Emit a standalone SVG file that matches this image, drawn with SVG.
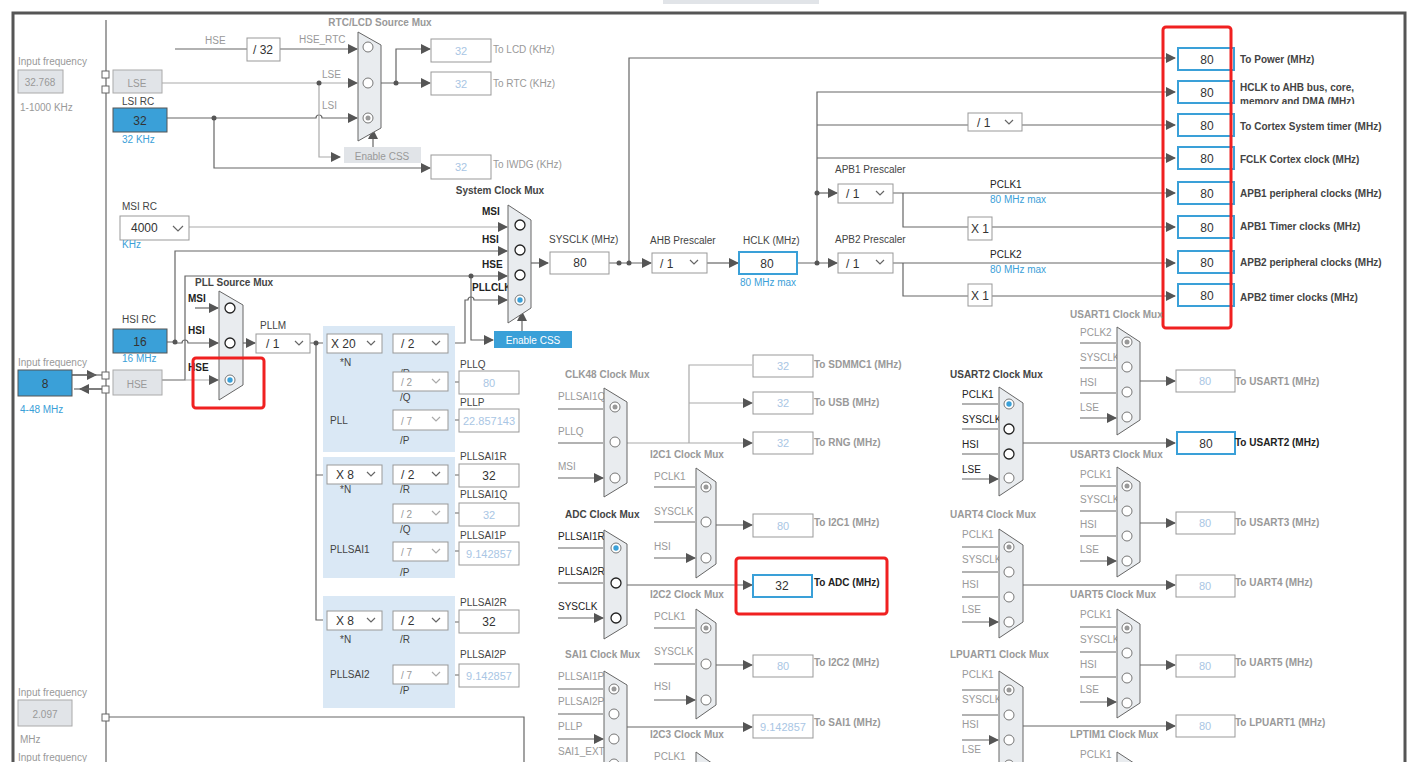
<svg xmlns="http://www.w3.org/2000/svg" width="1411" height="762" viewBox="0 0 1411 762">
<style>
text{font-family:"Liberation Sans",Arial,sans-serif;font-size:10px;fill:#444}
.g{fill:#999}.d{fill:#222}.b{font-weight:bold}.bl{fill:#3aa0d8}.f{fill:#a9c6e4;font-size:11px}.v{font-size:12px;fill:#333}.w{fill:#fff}
.ln{fill:none;stroke:#666;stroke-width:1.2}
.lg{fill:none;stroke:#aaa;stroke-width:1.2}
.bx{fill:#fff;stroke:#999;stroke-width:1}
.bb{fill:#fff;stroke:#3aa0d8;stroke-width:2}
.bf{fill:#3aa0d8;stroke:#555}
.gf{fill:#e1e4e8;stroke:#aaa}
.mx{fill:#e9ecef;stroke:#666;stroke-width:1}
.c{fill:#fff;stroke:#777;stroke-width:1}
.cd{fill:#fff;stroke:#222;stroke-width:1.3}
.pn{fill:#dae8f5}
.rd{fill:none;stroke:#f02020;stroke-width:3}
.dot{fill:#555}
</style>
<defs>
<marker id="a" markerWidth="10" markerHeight="10" refX="9" refY="5" orient="auto" markerUnits="userSpaceOnUse"><path d="M0,0L10,5L0,10Z" fill="#555"/></marker>
<clipPath id="hc"><rect x="1236" y="78" width="140" height="26"/></clipPath>
</defs>
<rect x="663" y="0" width="156" height="4" fill="#e1e4e8"/>
<rect x="13" y="13" width="1392" height="760" fill="none" stroke="#555" stroke-width="3"/>
<g id="connectors">
<path class="ln" d="M106,20V762"/>
<path class="ln" d="M106,717H524V762"/>
<path class="ln" d="M72,375H96" marker-end="url(#a)"/>
<path class="ln" d="M72,375H102"/>
<path class="ln" d="M104,389H80" marker-end="url(#a)"/>
<path class="ln" d="M104,389H74"/>
<path class="ln" d="M175,49H247"/><path class="ln" d="M280,49H357" marker-end="url(#a)"/>
<path class="lg" d="M162,83H357" marker-end="url(#a)"/>
<path class="ln" d="M167,118H316a3,3 0 0 1 6,0H357" marker-end="url(#a)"/>
<path class="lg" d="M319,83V157H340" marker-end="url(#a)"/>
<path class="ln" d="M214,118V168H430" marker-end="url(#a)"/>
<path class="ln" d="M381,83H396V49H430" marker-end="url(#a)"/>
<path class="ln" d="M396,83H430" marker-end="url(#a)"/>
<path class="ln" d="M373,147V130" marker-end="url(#a)"/>
<path class="lg" d="M189,227H507" marker-end="url(#a)"/>
<path class="ln" d="M167,342H175V251H507" marker-end="url(#a)"/>
<path class="ln" d="M162,380H185V276H507" marker-end="url(#a)"/>
<path class="ln" d="M471,276V340H493" marker-end="url(#a)"/>
<path class="ln" d="M448,343H465V300H468a3,3 0 0 1 6,0H507" marker-end="url(#a)"/>
<path class="ln" d="M522,331V312" marker-end="url(#a)"/>
<path class="ln" d="M195,308H218" marker-end="url(#a)"/>
<path class="ln" d="M175,343H182a3,3 0 0 1 6,0H218" marker-end="url(#a)"/>
<path class="lg" d="M185,380H218" marker-end="url(#a)"/>
<path class="ln" d="M243,343H255" marker-end="url(#a)"/>
<path class="ln" d="M310,343H327M316,343V620H327M316,475H327"/>
<path class="ln" d="M382,343H393M387,343V420H393M387,381H393M382,475H393M387,475V551H393M387,513H393M382,620H393M386,620V674H393"/>
<path class="ln" d="M448,382H459M448,420H459M448,475H459M448,513H459M448,551H459M448,622H459M448,675H459"/>
<path class="ln" d="M531,263H548" marker-end="url(#a)"/>
<path class="ln" d="M609,263H651" marker-end="url(#a)"/>
<path class="ln" d="M629,263V58H1175" marker-end="url(#a)"/>
<path class="ln" d="M707,263H738" marker-end="url(#a)"/>
<path class="ln" d="M797,263H837" marker-end="url(#a)"/>
<path class="ln" d="M817,263V92H1175" marker-end="url(#a)"/>
<path class="ln" d="M817,125H968M1022,125H1175" marker-end="url(#a)"/>
<path class="ln" d="M817,158H1175" marker-end="url(#a)"/>
<path class="ln" d="M817,193H837" marker-end="url(#a)"/>
<path class="ln" d="M893,193H1175" marker-end="url(#a)"/>
<path class="ln" d="M903,193V227H968M992,227H1175" marker-end="url(#a)"/>
<path class="ln" d="M893,263H1175" marker-end="url(#a)"/>
<path class="ln" d="M903,263V296H968M992,296H1175" marker-end="url(#a)"/>
<path class="ln" d="M558,409H603M558,443H603M558,478H603" marker-end="url(#a)"/>
<path class="lg" d="M624,443H752" marker-end="url(#a)"/>
<path class="lg" d="M689,443V365H752M689,403H752" marker-end="url(#a)"/>
<path class="ln" d="M654,487H695M654,522H695M654,558H695" marker-end="url(#a)"/>
<path class="ln" d="M716,525H752" marker-end="url(#a)"/>
<path class="ln" d="M558,548H603M558,583H603M558,618H603" marker-end="url(#a)"/>
<path class="ln" d="M624,585H752" marker-end="url(#a)"/>
<path class="ln" d="M654,628H695M654,664H695M654,700H695" marker-end="url(#a)"/>
<path class="ln" d="M716,665H752" marker-end="url(#a)"/>
<path class="ln" d="M558,689H603M558,714H603M558,739H603" marker-end="url(#a)"/>
<path class="ln" d="M624,727H752" marker-end="url(#a)"/>
<path class="ln" d="M962,404H998M962,429H998M962,454H998M962,479H998" marker-end="url(#a)"/>
<path class="ln" d="M1023,443H1175" marker-end="url(#a)"/>
<path class="ln" d="M1080,343H1116M1080,368H1116M1080,393H1116M1080,418H1116" marker-end="url(#a)"/>
<path class="ln" d="M1140,381H1175" marker-end="url(#a)"/>
<path class="ln" d="M1080,486H1116M1080,511H1116M1080,536H1116M1080,561H1116" marker-end="url(#a)"/>
<path class="ln" d="M1140,523H1175" marker-end="url(#a)"/>
<path class="ln" d="M962,547H998M962,572H998M962,597H998M962,622H998" marker-end="url(#a)"/>
<path class="ln" d="M1023,585H1175" marker-end="url(#a)"/>
<path class="ln" d="M1080,627H1116M1080,652H1116M1080,677H1116M1080,702H1116" marker-end="url(#a)"/>
<path class="ln" d="M1140,665H1175" marker-end="url(#a)"/>
<path class="ln" d="M962,690H998M962,715H998M962,740H998" marker-end="url(#a)"/>
<path class="ln" d="M1023,726H1175" marker-end="url(#a)"/>
<circle class="dot" cx="319" cy="83" r="2.5"/><circle class="dot" cx="214" cy="118" r="2.5"/><circle class="dot" cx="396" cy="83" r="2.5"/>
<circle class="dot" cx="175" cy="342" r="2.5"/><circle class="dot" cx="471" cy="276" r="2.5"/><circle class="dot" cx="316" cy="343" r="2.5"/>
<circle class="dot" cx="619" cy="263" r="2.5"/><circle class="dot" cx="629" cy="263" r="2.5"/><circle class="dot" cx="817" cy="263" r="2.5"/><circle class="dot" cx="817" cy="193" r="2.5"/>
</g>
<g id="left">
<text class="g" x="18" y="65">Input frequency</text>
<rect class="gf" x="18" y="70" width="45" height="23"/><text class="g" x="40" y="86" text-anchor="middle" font-size="12">32.768</text>
<text class="g" x="20" y="111">1-1000 KHz</text>
<rect x="102" y="71" width="7" height="7" fill="#fff" stroke="#666"/><rect x="102" y="86" width="7" height="7" fill="#fff" stroke="#666"/>
<rect class="gf" x="113" y="70" width="49" height="23"/><text x="137" y="87" text-anchor="middle" font-size="15" class="g">LSE</text>
<text x="122" y="105">LSI RC</text><rect class="bf" x="113" y="108" width="54" height="24"/><text x="140" y="125" text-anchor="middle" class="v">32</text>
<text class="bl" x="122" y="143">32 KHz</text>
<text x="122" y="210">MSI RC</text><rect class="bx" x="120" y="216" width="69" height="24"/><text class="v" x="131" y="232">4000</text><path class="ln" d="M173,226l5,5 5,-5"/>
<text class="bl" x="122" y="248">KHz</text>
<text x="122" y="323">HSI RC</text><rect class="bf" x="113" y="329" width="54" height="24"/><text x="140" y="346" text-anchor="middle" class="v">16</text>
<text class="bl" x="122" y="362">16 MHz</text>
<text class="g" x="18" y="366">Input frequency</text><rect class="bf" x="18" y="370" width="54" height="26"/><text x="45" y="388" text-anchor="middle" class="v">8</text>
<text class="bl" x="20" y="413">4-48 MHz</text>
<rect x="102" y="372" width="7" height="7" fill="#fff" stroke="#666"/><rect x="102" y="386" width="7" height="7" fill="#fff" stroke="#666"/>
<rect class="gf" x="113" y="370" width="49" height="25"/><text x="137" y="388" text-anchor="middle" font-size="15" class="g">HSE</text>
<text class="g" x="18" y="696">Input frequency</text><rect class="gf" x="18" y="700" width="54" height="26"/><text x="45" y="718" text-anchor="middle" class="g" font-size="12">2.097</text>
<text class="g" x="20" y="743">MHz</text><text class="g" x="18" y="761">Input frequency</text>
<rect x="102" y="714" width="7" height="7" fill="#fff" stroke="#666"/>
</g>
<g id="rtc">
<text class="g b" x="380" y="26" text-anchor="middle" font-size="9">RTC/LCD Source Mux</text>
<text class="g" x="205" y="44">HSE</text><rect class="bx" x="247" y="38" width="33" height="23"/><text class="v" x="263" y="54" text-anchor="middle">/ 32</text>
<text class="g" x="299" y="43">HSE_RTC</text><text class="g" x="322" y="78">LSE</text><text class="g" x="322" y="109">LSI</text>
<path class="mx" d="M358,32L381,45V128L358,141Z"/>
<circle class="c" cx="368" cy="47" r="5"/><circle class="c" cx="368" cy="83" r="5"/><circle class="c" cx="368" cy="118" r="5"/><circle fill="#999" cx="368" cy="118" r="2.5"/>
<rect x="344" y="147" width="77" height="16" fill="#e1e4e8"/><text class="g" x="382" y="160" text-anchor="middle" font-size="11">Enable CSS</text>
<rect class="bx" x="431" y="39" width="60" height="23"/><text class="f" x="461" y="55" text-anchor="middle">32</text><text class="g" x="493" y="53">To LCD (KHz)</text>
<rect class="bx" x="431" y="72" width="60" height="23"/><text class="f" x="461" y="88" text-anchor="middle">32</text><text class="g" x="493" y="87">To RTC (KHz)</text>
<rect class="bx" x="431" y="155" width="60" height="24"/><text class="f" x="461" y="171" text-anchor="middle">32</text><text class="g" x="493" y="168">To IWDG (KHz)</text>
</g>
<g id="sysmux">
<text class="b" x="500" y="194" text-anchor="middle" font-size="9">System Clock Mux</text>
<text class="b d" x="482" y="215" font-size="9">MSI</text><text class="b d" x="482" y="243" font-size="9">HSI</text><text class="b d" x="482" y="268" font-size="9">HSE</text><text class="b d" x="472" y="291" font-size="9">PLLCLK</text>
<path class="mx" d="M508,205L531,220V308L508,323Z"/>
<circle class="cd" cx="520" cy="225" r="5"/><circle class="cd" cx="520" cy="250" r="5"/><circle class="cd" cx="520" cy="275" r="5"/><circle class="c" cx="520" cy="300" r="5" stroke="#3aa0d8"/><circle cx="520" cy="300" r="2.7" fill="#3aa0d8"/>
<rect x="494" y="331" width="78" height="17" fill="#3aa0d8"/><text class="w" x="533" y="344" text-anchor="middle" font-size="11">Enable CSS</text>
<text x="549" y="243">SYSCLK (MHz)</text><rect class="bx" x="550" y="252" width="59" height="22"/><text class="v" x="580" y="267" text-anchor="middle">80</text>
</g>
<g id="pllsrc">
<text class="b" x="195" y="286" font-size="9">PLL Source Mux</text>
<text class="b d" x="188" y="302" font-size="9">MSI</text><text class="b d" x="188" y="334" font-size="9">HSI</text><text class="b d" x="188" y="371" font-size="9">HSE</text>
<path class="mx" d="M219,291L243,305V385L219,400Z"/>
<circle class="cd" cx="230" cy="308" r="5"/><circle class="cd" cx="230" cy="343" r="5"/><circle class="c" cx="230" cy="380" r="5" stroke="#3aa0d8"/><circle cx="230" cy="380" r="2.7" fill="#3aa0d8"/>
<rect class="rd" x="193" y="358" width="71" height="50" rx="3"/>
<text x="260" y="329">PLLM</text><rect class="bx" x="256" y="334" width="54" height="19"/><text class="v" x="266" y="348">/ 1</text><path class="ln" d="M295,341l4,4 4,-4"/>
</g>
<g id="pll">
<rect class="pn" x="323" y="326" width="132" height="126"/><rect class="pn" x="323" y="457" width="132" height="121"/><rect class="pn" x="323" y="596" width="132" height="112"/>
<rect class="bx" x="327" y="334" width="55" height="19"/><text class="v" x="331" y="348">X 20</text><path class="ln" d="M367,341l4,4 4,-4"/><text x="340" y="366">*N</text>
<rect class="bx" x="393" y="334" width="55" height="19"/><text class="v" x="401" y="348">/ 2</text><path class="ln" d="M432,341l4,4 4,-4"/><text x="400" y="377">/R</text>
<rect class="bx" x="393" y="372" width="55" height="19"/><text class="g" font-size="12" x="401" y="386">/ 2</text><path class="lg" d="M432,379l4,4 4,-4"/><text x="400" y="401">/Q</text>
<rect class="bx" x="393" y="410" width="55" height="20"/><text class="g" font-size="12" x="401" y="425">/ 7</text><path class="lg" d="M432,417l4,4 4,-4"/><text x="400" y="444">/P</text>
<text x="330" y="424">PLL</text>
<text x="460" y="368">PLLQ</text><rect class="bx" x="459" y="371" width="60" height="23"/><text class="f" x="489" y="387" text-anchor="middle">80</text>
<text x="460" y="406">PLLP</text><rect class="bx" x="459" y="409" width="60" height="23"/><text class="f" x="489" y="425" text-anchor="middle">22.857143</text>
<rect class="bx" x="327" y="465" width="55" height="19"/><text class="v" x="336" y="479">X 8</text><path class="ln" d="M367,472l4,4 4,-4"/><text x="340" y="493">*N</text>
<rect class="bx" x="393" y="465" width="55" height="19"/><text class="v" x="401" y="479">/ 2</text><path class="ln" d="M432,472l4,4 4,-4"/><text x="400" y="493">/R</text>
<rect class="bx" x="393" y="504" width="55" height="19"/><text class="g" font-size="12" x="401" y="518">/ 2</text><path class="lg" d="M432,511l4,4 4,-4"/><text x="400" y="533">/Q</text>
<rect class="bx" x="393" y="542" width="55" height="19"/><text class="g" font-size="12" x="401" y="556">/ 7</text><path class="lg" d="M432,549l4,4 4,-4"/><text x="400" y="576">/P</text>
<text x="330" y="553">PLLSAI1</text>
<text x="460" y="460">PLLSAI1R</text><rect class="bx" x="459" y="464" width="60" height="23" stroke="#666"/><text class="v" x="489" y="480" text-anchor="middle">32</text>
<text x="460" y="498">PLLSAI1Q</text><rect class="bx" x="459" y="503" width="60" height="23"/><text class="f" x="489" y="519" text-anchor="middle">32</text>
<text x="460" y="539">PLLSAI1P</text><rect class="bx" x="459" y="542" width="60" height="23"/><text class="f" x="489" y="558" text-anchor="middle">9.142857</text>
<rect class="bx" x="327" y="611" width="55" height="19"/><text class="v" x="336" y="625">X 8</text><path class="ln" d="M367,618l4,4 4,-4"/><text x="340" y="643">*N</text>
<rect class="bx" x="393" y="611" width="55" height="19"/><text class="v" x="401" y="625">/ 2</text><path class="ln" d="M432,618l4,4 4,-4"/><text x="400" y="643">/R</text>
<rect class="bx" x="393" y="665" width="55" height="19"/><text class="g" font-size="12" x="401" y="679">/ 7</text><path class="lg" d="M432,672l4,4 4,-4"/><text x="400" y="694">/P</text>
<text x="330" y="678">PLLSAI2</text>
<text x="460" y="606">PLLSAI2R</text><rect class="bx" x="459" y="610" width="60" height="23" stroke="#666"/><text class="v" x="489" y="626" text-anchor="middle">32</text>
<text x="460" y="658">PLLSAI2P</text><rect class="bx" x="459" y="664" width="60" height="23"/><text class="f" x="489" y="680" text-anchor="middle">9.142857</text>
</g>
<g id="bus">
<text x="650" y="244">AHB Prescaler</text><rect class="bx" x="652" y="253" width="55" height="20"/><text class="v" x="660" y="268">/ 1</text><path class="ln" d="M690,260l4,4 4,-4"/>
<text x="743" y="244">HCLK (MHz)</text><rect class="bb" x="739" y="252" width="58" height="22"/><text class="v" x="767" y="268" text-anchor="middle">80</text><text class="bl" x="740" y="286">80 MHz max</text>
<text x="835" y="173">APB1 Prescaler</text><rect class="bx" x="838" y="184" width="55" height="19"/><text class="v" x="846" y="198">/ 1</text><path class="ln" d="M876,191l4,4 4,-4"/>
<text x="835" y="243">APB2 Prescaler</text><rect class="bx" x="838" y="253" width="55" height="20"/><text class="v" x="846" y="268">/ 1</text><path class="ln" d="M876,260l4,4 4,-4"/>
<rect class="bx" x="968" y="113" width="54" height="18"/><text class="v" x="977" y="127">/ 1</text><path class="ln" d="M1005,120l4,4 4,-4"/>
<text class="d" x="990" y="188">PCLK1</text><text class="bl" x="990" y="203">80 MHz max</text>
<text class="d" x="990" y="258">PCLK2</text><text class="bl" x="990" y="273">80 MHz max</text>
<rect class="bx" x="968" y="217" width="24" height="23" stroke="#666"/><text class="v" x="980" y="233" text-anchor="middle">X 1</text>
<rect class="bx" x="968" y="284" width="24" height="22" stroke="#666"/><text class="v" x="980" y="300" text-anchor="middle">X 1</text>
</g>
<g id="outputs">
<rect class="bb" x="1178" y="48" width="56" height="22"/><text class="v" x="1207" y="64" text-anchor="middle">80</text><text class="b" x="1240" y="63" font-size="9">To Power (MHz)</text>
<rect class="bb" x="1178" y="81" width="56" height="22"/><text class="v" x="1207" y="97" text-anchor="middle">80</text><g clip-path="url(#hc)"><text class="b" x="1240" y="91" font-size="9">HCLK to AHB bus, core,</text><text class="b" x="1240" y="105" font-size="9">memory and DMA (MHz)</text></g>
<rect class="bb" x="1178" y="114" width="56" height="22"/><text class="v" x="1207" y="130" text-anchor="middle">80</text><text class="b" x="1240" y="130" font-size="9">To Cortex System timer (MHz)</text>
<rect class="bb" x="1178" y="147" width="56" height="22"/><text class="v" x="1207" y="163" text-anchor="middle">80</text><text class="b" x="1240" y="163" font-size="9">FCLK Cortex clock (MHz)</text>
<rect class="bb" x="1178" y="182" width="56" height="22"/><text class="v" x="1207" y="198" text-anchor="middle">80</text><text class="b" x="1240" y="197" font-size="9">APB1 peripheral clocks (MHz)</text>
<rect class="bb" x="1178" y="216" width="56" height="22"/><text class="v" x="1207" y="232" text-anchor="middle">80</text><text class="b" x="1240" y="230" font-size="9">APB1 Timer clocks (MHz)</text>
<rect class="bb" x="1178" y="251" width="56" height="22"/><text class="v" x="1207" y="267" text-anchor="middle">80</text><text class="b" x="1240" y="266" font-size="9">APB2 peripheral clocks (MHz)</text>
<rect class="bb" x="1178" y="284" width="56" height="22"/><text class="v" x="1207" y="300" text-anchor="middle">80</text><text class="b" x="1240" y="301" font-size="9">APB2 timer clocks (MHz)</text>
<rect class="rd" x="1163" y="27" width="68" height="301" rx="3"/>
</g>
<g id="periph" font-size="9">
<text class="g b" x="565" y="378" font-size="9">CLK48 Clock Mux</text>
<text class="g" x="558" y="400">PLLSAI1Q</text><text class="g" x="558" y="435">PLLQ</text><text class="g" x="558" y="470">MSI</text>
<path class="mx" d="M604,388L627,402V483L604,497Z"/><circle class="c" cx="615" cy="407" r="5"/><circle fill="#999" cx="615" cy="407" r="2.5"/><circle class="c" cx="615" cy="442" r="5"/><circle class="c" cx="615" cy="478" r="5"/>
<rect class="bx" x="753" y="355" width="60" height="22"/><text class="f" x="783" y="370" text-anchor="middle">32</text><text class="g b" x="814" y="368" font-size="9">To SDMMC1 (MHz)</text>
<rect class="bx" x="753" y="392" width="60" height="22"/><text class="f" x="783" y="407" text-anchor="middle">32</text><text class="g b" x="814" y="406" font-size="9">To USB (MHz)</text>
<rect class="bx" x="753" y="432" width="60" height="22"/><text class="f" x="783" y="447" text-anchor="middle">32</text><text class="g b" x="814" y="446" font-size="9">To RNG (MHz)</text>
<text class="g b" x="650" y="458" font-size="9">I2C1 Clock Mux</text>
<text class="g" x="654" y="480">PCLK1</text><text class="g" x="654" y="515">SYSCLK</text><text class="g" x="654" y="550">HSI</text>
<path class="mx" d="M696,468L716,482V564L696,578Z"/><circle class="c" cx="706" cy="487" r="5"/><circle fill="#999" cx="706" cy="487" r="2.5"/><circle class="c" cx="706" cy="522" r="5"/><circle class="c" cx="706" cy="558" r="5"/>
<rect class="bx" x="753" y="514" width="60" height="23"/><text class="f" x="783" y="530" text-anchor="middle">80</text><text class="g b" x="814" y="526" font-size="9">To I2C1 (MHz)</text>
<text class="b" x="565" y="518" font-size="9">ADC Clock Mux</text>
<text class="d" x="558" y="540">PLLSAI1R</text><text class="d" x="558" y="575">PLLSAI2R</text><text class="d" x="558" y="610">SYSCLK</text>
<path class="mx" d="M604,530L627,544V625L604,639Z"/><circle class="c" cx="616" cy="548" r="5" stroke="#3aa0d8"/><circle cx="616" cy="548" r="2.7" fill="#3aa0d8"/><circle class="cd" cx="616" cy="583" r="5"/><circle class="cd" cx="616" cy="618" r="5"/>
<rect class="bb" x="753" y="575" width="59" height="22"/><text class="v" x="782" y="590" text-anchor="middle">32</text><text class="b d" x="814" y="586" font-size="9">To ADC (MHz)</text>
<rect class="rd" x="736" y="558" width="151" height="56" rx="3"/>
<text class="g b" x="650" y="598" font-size="9">I2C2 Clock Mux</text>
<text class="g" x="654" y="620">PCLK1</text><text class="g" x="654" y="655">SYSCLK</text><text class="g" x="654" y="690">HSI</text>
<path class="mx" d="M696,609L716,623V705L696,719Z"/><circle class="c" cx="706" cy="628" r="5"/><circle fill="#999" cx="706" cy="628" r="2.5"/><circle class="c" cx="706" cy="664" r="5"/><circle class="c" cx="706" cy="700" r="5"/>
<rect class="bx" x="753" y="655" width="60" height="22"/><text class="f" x="783" y="670" text-anchor="middle">80</text><text class="g b" x="814" y="666" font-size="9">To I2C2 (MHz)</text>
<text class="g b" x="565" y="658" font-size="9">SAI1 Clock Mux</text>
<text class="g" x="558" y="680">PLLSAI1P</text><text class="g" x="558" y="705">PLLSAI2P</text><text class="g" x="558" y="730">PLLP</text><text class="g" x="558" y="755">SAI1_EXT</text>
<path class="mx" d="M604,671L627,685V780L604,794Z"/><circle class="c" cx="614" cy="689" r="5"/><circle fill="#999" cx="614" cy="689" r="2.5"/><circle class="c" cx="614" cy="714" r="5"/><circle class="c" cx="614" cy="739" r="5"/><circle class="c" cx="614" cy="764" r="5"/>
<rect class="bx" x="753" y="715" width="60" height="23"/><text class="f" x="783" y="731" text-anchor="middle">9.142857</text><text class="g b" x="814" y="726" font-size="9">To SAI1 (MHz)</text>
<text class="g b" x="650" y="738" font-size="9">I2C3 Clock Mux</text><text class="g" x="654" y="760">PCLK1</text>
<path class="mx" d="M696,752L716,766V800L696,800Z"/>
</g>
<g id="usart" font-size="9">
<text class="b" x="950" y="378" font-size="9">USART2 Clock Mux</text>
<text class="d" x="962" y="398">PCLK1</text><text class="d" x="962" y="423">SYSCLK</text><text class="d" x="962" y="448">HSI</text><text class="d" x="962" y="473">LSE</text>
<path class="mx" d="M999,387L1023,403V480L999,496Z"/><circle class="c" cx="1009" cy="404" r="5" stroke="#3aa0d8"/><circle cx="1009" cy="404" r="2.7" fill="#3aa0d8"/><circle class="cd" cx="1009" cy="429" r="5"/><circle class="cd" cx="1009" cy="454" r="5"/><circle class="c" cx="1009" cy="478" r="5"/>
<rect class="bb" x="1177" y="432" width="58" height="22"/><text class="v" x="1206" y="448" text-anchor="middle">80</text><text class="b d" x="1235" y="446" font-size="9">To USART2 (MHz)</text>
<text class="g b" x="1070" y="318" font-size="9">USART1 Clock Mux</text>
<text class="g" x="1080" y="336">PCLK2</text><text class="g" x="1080" y="361">SYSCLK</text><text class="g" x="1080" y="386">HSI</text><text class="g" x="1080" y="411">LSE</text>
<path class="mx" d="M1117,327L1140,342V420L1117,435Z"/><circle class="c" cx="1127" cy="342" r="5"/><circle fill="#999" cx="1127" cy="342" r="2.5"/><circle class="c" cx="1127" cy="367" r="5"/><circle class="c" cx="1127" cy="392" r="5"/><circle class="c" cx="1127" cy="417" r="5"/>
<rect class="bx" x="1176" y="370" width="59" height="22"/><text class="f" x="1205" y="385" text-anchor="middle">80</text><text class="g b" x="1235" y="385" font-size="9">To USART1 (MHz)</text>
<text class="g b" x="1070" y="458" font-size="9">USART3 Clock Mux</text>
<text class="g" x="1080" y="478">PCLK1</text><text class="g" x="1080" y="503">SYSCLK</text><text class="g" x="1080" y="528">HSI</text><text class="g" x="1080" y="553">LSE</text>
<path class="mx" d="M1117,467L1140,482V562L1117,577Z"/><circle class="c" cx="1127" cy="486" r="5"/><circle fill="#999" cx="1127" cy="486" r="2.5"/><circle class="c" cx="1127" cy="511" r="5"/><circle class="c" cx="1127" cy="536" r="5"/><circle class="c" cx="1127" cy="561" r="5"/>
<rect class="bx" x="1176" y="512" width="59" height="22"/><text class="f" x="1205" y="527" text-anchor="middle">80</text><text class="g b" x="1235" y="526" font-size="9">To USART3 (MHz)</text>
<text class="g b" x="950" y="518" font-size="9">UART4 Clock Mux</text>
<text class="g" x="962" y="538">PCLK1</text><text class="g" x="962" y="563">SYSCLK</text><text class="g" x="962" y="588">HSI</text><text class="g" x="962" y="613">LSE</text>
<path class="mx" d="M999,529L1023,545V622L999,638Z"/><circle class="c" cx="1009" cy="547" r="5"/><circle fill="#999" cx="1009" cy="547" r="2.5"/><circle class="c" cx="1009" cy="572" r="5"/><circle class="c" cx="1009" cy="597" r="5"/><circle class="c" cx="1009" cy="622" r="5"/>
<rect class="bx" x="1176" y="575" width="59" height="22"/><text class="f" x="1205" y="590" text-anchor="middle">80</text><text class="g b" x="1235" y="586" font-size="9">To UART4 (MHz)</text>
<text class="g b" x="1070" y="598" font-size="9">UART5 Clock Mux</text>
<text class="g" x="1080" y="618">PCLK1</text><text class="g" x="1080" y="643">SYSCLK</text><text class="g" x="1080" y="668">HSI</text><text class="g" x="1080" y="693">LSE</text>
<path class="mx" d="M1117,609L1140,624V703L1117,718Z"/><circle class="c" cx="1127" cy="628" r="5"/><circle fill="#999" cx="1127" cy="628" r="2.5"/><circle class="c" cx="1127" cy="653" r="5"/><circle class="c" cx="1127" cy="678" r="5"/><circle class="c" cx="1127" cy="703" r="5"/>
<rect class="bx" x="1176" y="655" width="59" height="22"/><text class="f" x="1205" y="670" text-anchor="middle">80</text><text class="g b" x="1235" y="666" font-size="9">To UART5 (MHz)</text>
<text class="g b" x="950" y="658" font-size="9">LPUART1 Clock Mux</text>
<text class="g" x="962" y="678">PCLK1</text><text class="g" x="962" y="703">SYSCLK</text><text class="g" x="962" y="728">HSI</text><text class="g" x="962" y="753">LSE</text>
<path class="mx" d="M999,671L1023,687V780L999,796Z"/><circle class="c" cx="1009" cy="690" r="5"/><circle fill="#999" cx="1009" cy="690" r="2.5"/><circle class="c" cx="1009" cy="715" r="5"/><circle class="c" cx="1009" cy="740" r="5"/><circle class="c" cx="1009" cy="765" r="5"/>
<rect class="bx" x="1176" y="715" width="59" height="22"/><text class="f" x="1205" y="730" text-anchor="middle">80</text><text class="g b" x="1235" y="726" font-size="9">To LPUART1 (MHz)</text>
<text class="g b" x="1070" y="738" font-size="9">LPTIM1 Clock Mux</text><text class="g" x="1080" y="758">PCLK1</text>
<path class="mx" d="M1117,752L1140,767V800L1117,800Z"/>
</g>
</svg>
